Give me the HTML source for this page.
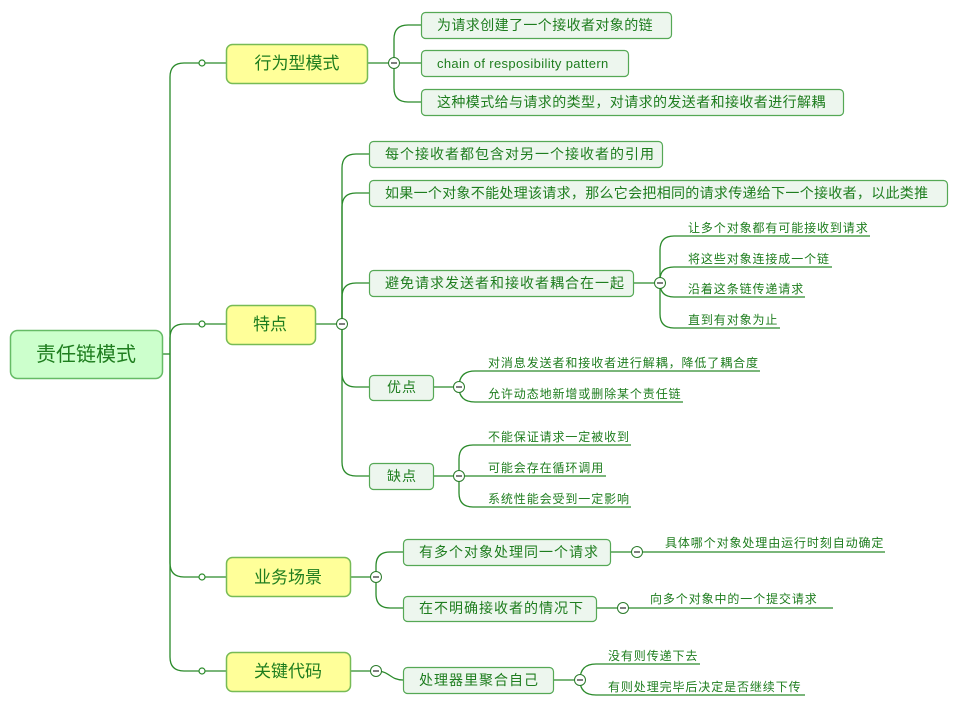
<!DOCTYPE html>
<html><head><meta charset="utf-8"><style>
html,body{margin:0;padding:0;background:#fff;}
svg{display:block;}
text{font-family:"Liberation Sans","Noto Sans CJK SC",sans-serif;fill:#1e7d1e;}
</style></head><body>
<svg width="961" height="725" viewBox="0 0 961 725" xmlns="http://www.w3.org/2000/svg">
<g fill="none" stroke="#2a8a2a" stroke-width="1.3">
<path d="M162 354 L170 354"/>
<path d="M170 354 L170 77 Q170 63 184 63 L226 63"/>
<path d="M170 354 L170 338 Q170 324 184 324 L226 324"/>
<path d="M170 354 L170 563 Q170 577 184 577 L226 577"/>
<path d="M170 354 L170 657 Q170 671 184 671 L226 671"/>
<path d="M367 63 L421 63"/>
<path d="M394 63 L394 39 Q394 25 408 25 L421 25"/>
<path d="M394 63 L394 88 Q394 102 408 102 L421 102"/>
<path d="M315 324 L342 324"/>
<path d="M342 324 L342 168 Q342 154 356 154 L369 154"/>
<path d="M342 324 L342 207 Q342 193 356 193 L369 193"/>
<path d="M342 324 L342 297 Q342 283 356 283 L369 283"/>
<path d="M342 324 L342 373 Q342 387 356 387 L369 387"/>
<path d="M342 324 L342 462 Q342 476 356 476 L369 476"/>
<path d="M633 283 L660 283"/>
<path d="M660 283 L660 250 Q660 236 674 236 L870 236"/>
<path d="M660 283 L660 280 Q660 267 674 267 L832 267"/>
<path d="M660 283 Q660 297 674 297 L805 297"/>
<path d="M660 283 L660 314 Q660 328 674 328 L780 328"/>
<path d="M433 387 L459 387"/>
<path d="M459 387 Q459 371 475 371 L760 371"/>
<path d="M459 387 Q459 402 475 402 L683 402"/>
<path d="M433 476 L459 476"/>
<path d="M459 476 L459 459 Q459 445 473 445 L631 445"/>
<path d="M459 476 L606 476"/>
<path d="M459 476 L459 493 Q459 507 473 507 L631 507"/>
<path d="M350 577 L376 577"/>
<path d="M376 577 L376 566 Q376 552 390 552 L403 552"/>
<path d="M376 577 L376 594 Q376 608 390 608 L403 608"/>
<path d="M610 552 L885 552"/>
<path d="M596 608 L833 608"/>
<path d="M350 671 L376 671 C390 671 390 680 403 680"/>
<path d="M553 680 L580 680"/>
<path d="M580 680 Q580 664 596 664 L700 664"/>
<path d="M580 680 Q580 695 596 695 L805 695"/>
</g>
<g fill="#fff" stroke="#2a8a2a" stroke-width="1.2">
<circle cx="202" cy="63" r="3"/><circle cx="202" cy="324" r="3"/>
<circle cx="202" cy="577" r="3"/><circle cx="202" cy="671" r="3"/>
</g>
<g fill="#fff" stroke="#2a7a2a" stroke-width="1">
<circle cx="394" cy="63" r="5.5"/><circle cx="342" cy="324" r="5.5"/>
<circle cx="660" cy="283" r="5.5"/><circle cx="459" cy="387" r="5.5"/>
<circle cx="459" cy="476" r="5.5"/><circle cx="376" cy="577" r="5.5"/>
<circle cx="637" cy="552" r="5.5"/><circle cx="623" cy="608" r="5.5"/>
<circle cx="376" cy="671" r="5.5"/><circle cx="580" cy="680" r="5.5"/>
</g>
<g stroke="#333" stroke-width="1.3">
<path d="M391 63h6M339 324h6M657 283h6M456 387h6M456 476h6M373 577h6M634 552h6M620 608h6M373 671h6M577 680h6"/>
</g>
<rect x="10.5" y="330.5" width="152" height="48" rx="7" fill="#ccffcc" stroke="#66bb66" stroke-width="1.5"/>
<text x="86" y="361" font-size="20" text-anchor="middle">责任链模式</text>
<g fill="#ffff99" stroke="#77bb55" stroke-width="1.5">
<rect x="226.5" y="44.5" width="141" height="39" rx="6"/>
<rect x="226.5" y="305.5" width="89" height="39" rx="6"/>
<rect x="226.5" y="557.5" width="124" height="39" rx="6"/>
<rect x="226.5" y="652.5" width="124" height="39" rx="6"/>
</g>
<g font-size="17" text-anchor="middle">
<text x="297" y="69">行为型模式</text>
<text x="270" y="330">特点</text>
<text x="288" y="583">业务场景</text>
<text x="288" y="677">关键代码</text>
</g>
<g fill="#edf6ee" stroke="#55a855" stroke-width="1.2">
<rect x="421.5" y="12.5" width="250" height="26" rx="4"/>
<rect x="421.5" y="50.5" width="207" height="26" rx="4"/>
<rect x="421.5" y="89.5" width="422" height="26" rx="4"/>
<rect x="369.5" y="141.5" width="293" height="26" rx="4"/>
<rect x="369.5" y="180.5" width="578" height="26" rx="4"/>
<rect x="369.5" y="270.5" width="264" height="26" rx="4"/>
<rect x="369.5" y="375.5" width="64" height="25" rx="4"/>
<rect x="369.5" y="463.5" width="64" height="26" rx="4"/>
<rect x="403.5" y="539.5" width="207" height="26" rx="4"/>
<rect x="403.5" y="596.5" width="193" height="25" rx="4"/>
<rect x="403.5" y="667.5" width="150" height="26" rx="4"/>
</g>
<g font-size="14" letter-spacing="1">
<text x="437" y="30" letter-spacing="0.4">为请求创建了一个接收者对象的链</text>
<text x="437" y="68" font-size="13" letter-spacing="0.35">chain of resposibility pattern</text>
<text x="437" y="107" letter-spacing="0.4">这种模式给与请求的类型，对请求的发送者和接收者进行解耦</text>
<text x="385" y="159">每个接收者都包含对另一个接收者的引用</text>
<text x="385" y="198" letter-spacing="0.3">如果一个对象不能处理该请求，那么它会把相同的请求传递给下一个接收者，以此类推</text>
<text x="385" y="288">避免请求发送者和接收者耦合在一起</text>
<text x="387" y="392">优点</text>
<text x="387" y="481">缺点</text>
<text x="419" y="557">有多个对象处理同一个请求</text>
<text x="419" y="613">在不明确接收者的情况下</text>
<text x="419" y="685">处理器里聚合自己</text>
</g>
<g font-size="12" letter-spacing="0.9">
<text x="688" y="232">让多个对象都有可能接收到请求</text>
<text x="688" y="263">将这些对象连接成一个链</text>
<text x="688" y="293">沿着这条链传递请求</text>
<text x="688" y="324">直到有对象为止</text>
<text x="488" y="367">对消息发送者和接收者进行解耦，降低了耦合度</text>
<text x="488" y="398">允许动态地新增或删除某个责任链</text>
<text x="488" y="441">不能保证请求一定被收到</text>
<text x="488" y="472">可能会存在循环调用</text>
<text x="488" y="503">系统性能会受到一定影响</text>
<text x="665" y="547">具体哪个对象处理由运行时刻自动确定</text>
<text x="650" y="603">向多个对象中的一个提交请求</text>
<text x="608" y="660">没有则传递下去</text>
<text x="608" y="691">有则处理完毕后决定是否继续下传</text>
</g>
</svg>
</body></html>
